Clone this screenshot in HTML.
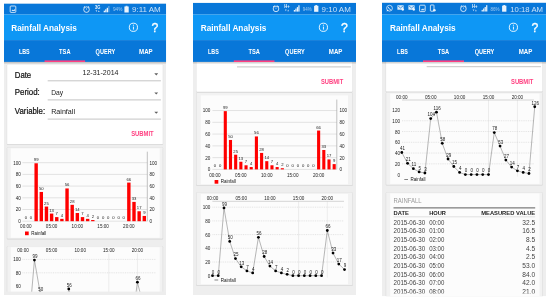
<!DOCTYPE html>
<html lang="en"><head><meta charset="utf-8"><title>Rainfall Analysis</title>
<style>html,body{margin:0;padding:0;background:#fff;overflow:hidden}svg{display:block}</style>
</head><body>
<svg width="550" height="301" viewBox="0 0 550 301" font-family="'Liberation Sans', sans-serif">
<defs><linearGradient id="sh" x1="0" y1="0" x2="0" y2="1"><stop offset="0" stop-color="#000" stop-opacity="0.22"/><stop offset="1" stop-color="#000" stop-opacity="0"/></linearGradient>
<clipPath id="c1"><rect x="4" y="3.4" width="162.2" height="291.6"/></clipPath>
<clipPath id="c2"><rect x="193" y="2.7" width="163" height="292.3"/></clipPath>
<clipPath id="c3"><rect x="382" y="2.6" width="164" height="293.7"/></clipPath>
<clipPath id="c3t"><rect x="382" y="190" width="164" height="103.6"/></clipPath>
</defs>
<rect x="0.00" y="0.00" width="550.00" height="301.00" fill="#fff" />
<g clip-path="url(#c1)">
<rect x="4.00" y="3.40" width="162.20" height="291.60" fill="#eeeeee" />
<rect x="4.00" y="3.40" width="162.20" height="11.10" fill="#0877d9" />
<rect x="4.00" y="14.50" width="162.20" height="25.70" fill="#0e97f5" />
<rect x="4.00" y="40.10" width="162.20" height="21.80" fill="#0877d9" />
<rect x="4.00" y="61.90" width="162.20" height="2.60" fill="url(#sh)" />
<rect x="44.55" y="60.40" width="40.55" height="1.60" fill="#ff4081" />
<text x="11.30" y="30.50" font-size="8.8" fill="#fff" text-anchor="start" font-weight="bold" textLength="65.60" lengthAdjust="spacingAndGlyphs" >Rainfall Analysis</text>
<text x="18.88" y="53.80" font-size="6.3" fill="#fff" text-anchor="start" font-weight="bold" textLength="10.80" lengthAdjust="spacingAndGlyphs" >LBS</text>
<text x="59.12" y="53.80" font-size="6.3" fill="#fff" text-anchor="start" font-weight="bold" textLength="11.40" lengthAdjust="spacingAndGlyphs" >TSA</text>
<text x="95.58" y="53.80" font-size="6.3" fill="#fff" text-anchor="start" font-weight="bold" textLength="19.60" lengthAdjust="spacingAndGlyphs" >QUERY</text>
<text x="139.12" y="53.80" font-size="6.3" fill="#fff" text-anchor="start" font-weight="bold" textLength="13.60" lengthAdjust="spacingAndGlyphs" >MAP</text>
<circle cx="133.40" cy="27.3" r="4.1" fill="none" stroke="#fff" stroke-width="0.9"/>
<rect x="132.95" y="26.60" width="0.90" height="3.00" fill="#fff" />
<rect x="132.95" y="24.70" width="0.90" height="1.00" fill="#fff" />
<text x="154.80" y="31.90" font-size="12.2" fill="#fff" text-anchor="middle" font-weight="normal" stroke="#fff" stroke-width="0.3">?</text>
<circle cx="86.50" cy="9.60" r="2.8" fill="none" stroke="#fff" stroke-width="0.9" opacity="0.85"/>
<line x1="83.60" y1="7.60" x2="85.00" y2="6.30" stroke="#fff" stroke-width="0.9" opacity="0.85"/>
<line x1="89.40" y1="7.60" x2="88.00" y2="6.30" stroke="#fff" stroke-width="0.9" opacity="0.85"/>
<line x1="86.50" y1="8.20" x2="86.50" y2="9.80" stroke="#fff" stroke-width="0.6" opacity="0.85"/>
<text x="94.90" y="9.10" font-size="4.9" fill="#fff" text-anchor="start" font-weight="bold" textLength="5.40" lengthAdjust="spacingAndGlyphs" opacity="0.9">3G</text>
<path d="M95.50 10.20 h1.8 l-0.9 1.8 Z M97.90 12.00 h1.8 l-0.9 -1.8 Z" fill="#fff" opacity="0.7"/>
<rect x="103.70" y="10.70" width="1.25" height="1.60" fill="#fff" opacity="0.95"/>
<rect x="105.20" y="9.30" width="1.25" height="3.00" fill="#fff" opacity="0.95"/>
<rect x="106.70" y="7.80" width="1.25" height="4.50" fill="#fff" opacity="0.95"/>
<rect x="108.20" y="6.00" width="1.25" height="6.30" fill="#fff" opacity="0.35"/>
<text x="113.00" y="11.40" font-size="4.6" fill="#fff" text-anchor="start" font-weight="normal" textLength="9.40" lengthAdjust="spacingAndGlyphs" opacity="0.6">94%</text>
<rect x="124.40" y="6.50" width="4.30" height="6.00" fill="#fff" opacity="0.92"/>
<rect x="125.60" y="5.80" width="1.90" height="0.90" fill="#fff" opacity="0.92"/>
<text x="132.00" y="12.40" font-size="8.0" fill="#fff" text-anchor="start" font-weight="normal" textLength="28.80" lengthAdjust="spacingAndGlyphs" opacity="0.78">9:11 AM</text>
<rect x="10.20" y="6.00" width="5.6" height="6.4" rx="0.8" fill="none" stroke="#fff" stroke-width="0.9" opacity="0.85"/>
<path d="M11.40 11.00 l1.4 -1.6 l0.9 0.9 l1.2 -1.5 l0 2.2 Z" fill="#fff" opacity="0.85"/>
<rect x="6.70" y="64.30" width="156.50" height="80.80" fill="#000" opacity="0.07" rx="1.2"/>
<rect x="7.30" y="64.60" width="155.30" height="79.40" fill="#f2f2f2" rx="0.8"/>
<rect x="7.30" y="64.60" width="155.30" height="79.40" fill="#fff" />
<text x="14.80" y="77.80" font-size="8.5" fill="#111" text-anchor="start" font-weight="normal" textLength="16.40" lengthAdjust="spacingAndGlyphs" stroke="#111" stroke-width="0.22">Date</text>
<text x="14.80" y="94.50" font-size="8.5" fill="#111" text-anchor="start" font-weight="normal" textLength="25.00" lengthAdjust="spacingAndGlyphs" stroke="#111" stroke-width="0.22">Period:</text>
<text x="14.80" y="113.60" font-size="8.5" fill="#111" text-anchor="start" font-weight="normal" textLength="30.30" lengthAdjust="spacingAndGlyphs" stroke="#111" stroke-width="0.22">Variable:</text>
<text x="82.50" y="75.30" font-size="7.0" fill="#222" text-anchor="start" font-weight="normal" textLength="36.00" lengthAdjust="spacingAndGlyphs" >12-31-2014</text>
<text x="51.20" y="94.50" font-size="6.7" fill="#222" text-anchor="start" font-weight="normal" textLength="11.90" lengthAdjust="spacingAndGlyphs" >Day</text>
<text x="51.20" y="113.60" font-size="6.8" fill="#222" text-anchor="start" font-weight="normal" textLength="23.80" lengthAdjust="spacingAndGlyphs" >Rainfall</text>
<line x1="47.70" y1="80.80" x2="160.90" y2="80.80" stroke="#b5b5b5" stroke-width="0.8" />
<path d="M154.3 73.3 h3.9 l-1.95 2.1 Z" fill="#616161"/>
<line x1="47.70" y1="99.90" x2="160.90" y2="99.90" stroke="#b5b5b5" stroke-width="0.8" />
<path d="M154.3 92.4 h3.9 l-1.95 2.1 Z" fill="#616161"/>
<line x1="47.70" y1="119.10" x2="160.90" y2="119.10" stroke="#b5b5b5" stroke-width="0.8" />
<path d="M154.3 111.7 h3.9 l-1.95 2.1 Z" fill="#616161"/>
<text x="131.20" y="135.60" font-size="6.7" fill="#ff4081" text-anchor="start" font-weight="bold" textLength="22.40" lengthAdjust="spacingAndGlyphs" >SUBMIT</text>
<rect x="6.70" y="147.20" width="156.50" height="92.50" fill="#000" opacity="0.07" rx="1.2"/>
<rect x="7.30" y="147.50" width="155.30" height="91.10" fill="#f2f2f2" rx="0.8"/>
<rect x="10.80" y="148.40" width="148.90" height="89.40" fill="#fcfcfc" />
<line x1="22.40" y1="221.20" x2="147.30" y2="221.20" stroke="#c8c8c8" stroke-width="0.5" />
<text x="20.80" y="223.10" font-size="4.6" fill="#222" text-anchor="end" font-weight="normal" >0</text>
<text x="149.40" y="223.10" font-size="4.6" fill="#222" text-anchor="start" font-weight="normal" >0</text>
<line x1="22.40" y1="209.50" x2="147.30" y2="209.50" stroke="#c8c8c8" stroke-width="0.5" />
<text x="20.80" y="211.40" font-size="4.6" fill="#222" text-anchor="end" font-weight="normal" >20</text>
<text x="149.40" y="211.40" font-size="4.6" fill="#222" text-anchor="start" font-weight="normal" >20</text>
<line x1="22.40" y1="197.80" x2="147.30" y2="197.80" stroke="#c8c8c8" stroke-width="0.5" />
<text x="20.80" y="199.70" font-size="4.6" fill="#222" text-anchor="end" font-weight="normal" >40</text>
<text x="149.40" y="199.70" font-size="4.6" fill="#222" text-anchor="start" font-weight="normal" >40</text>
<line x1="22.40" y1="186.10" x2="147.30" y2="186.10" stroke="#c8c8c8" stroke-width="0.5" />
<text x="20.80" y="188.00" font-size="4.6" fill="#222" text-anchor="end" font-weight="normal" >60</text>
<text x="149.40" y="188.00" font-size="4.6" fill="#222" text-anchor="start" font-weight="normal" >60</text>
<line x1="22.40" y1="174.40" x2="147.30" y2="174.40" stroke="#c8c8c8" stroke-width="0.5" />
<text x="20.80" y="176.30" font-size="4.6" fill="#222" text-anchor="end" font-weight="normal" >80</text>
<text x="149.40" y="176.30" font-size="4.6" fill="#222" text-anchor="start" font-weight="normal" >80</text>
<line x1="22.40" y1="162.70" x2="147.30" y2="162.70" stroke="#c8c8c8" stroke-width="0.5" />
<text x="20.80" y="164.60" font-size="4.6" fill="#222" text-anchor="end" font-weight="normal" >100</text>
<text x="149.40" y="164.60" font-size="4.6" fill="#222" text-anchor="start" font-weight="normal" >100</text>
<line x1="147.30" y1="151.70" x2="147.30" y2="221.20" stroke="#999" stroke-width="0.6" />
<text x="25.85" y="219.20" font-size="4.2" fill="#222" text-anchor="middle" font-weight="normal" >0</text>
<text x="31.00" y="219.20" font-size="4.2" fill="#222" text-anchor="middle" font-weight="normal" >0</text>
<rect x="34.45" y="163.28" width="3.40" height="57.91" fill="#ff0000" />
<text x="36.15" y="161.28" font-size="4.2" fill="#222" text-anchor="middle" font-weight="normal" >99</text>
<rect x="39.60" y="191.95" width="3.40" height="29.25" fill="#ff0000" />
<text x="41.30" y="189.95" font-size="4.2" fill="#222" text-anchor="middle" font-weight="normal" >50</text>
<rect x="44.75" y="206.57" width="3.40" height="14.62" fill="#ff0000" />
<text x="46.45" y="204.57" font-size="4.2" fill="#222" text-anchor="middle" font-weight="normal" >25</text>
<rect x="49.90" y="213.59" width="3.40" height="7.60" fill="#ff0000" />
<text x="51.60" y="211.59" font-size="4.2" fill="#222" text-anchor="middle" font-weight="normal" >13</text>
<rect x="55.05" y="217.10" width="3.40" height="4.09" fill="#ff0000" />
<text x="56.75" y="215.10" font-size="4.2" fill="#222" text-anchor="middle" font-weight="normal" >7</text>
<rect x="60.20" y="218.86" width="3.40" height="2.34" fill="#ff0000" />
<text x="61.90" y="216.86" font-size="4.2" fill="#222" text-anchor="middle" font-weight="normal" >4</text>
<rect x="65.35" y="188.44" width="3.40" height="32.76" fill="#ff0000" />
<text x="67.05" y="186.44" font-size="4.2" fill="#222" text-anchor="middle" font-weight="normal" >56</text>
<rect x="70.50" y="204.82" width="3.40" height="16.38" fill="#ff0000" />
<text x="72.20" y="202.82" font-size="4.2" fill="#222" text-anchor="middle" font-weight="normal" >28</text>
<rect x="75.65" y="213.01" width="3.40" height="8.19" fill="#ff0000" />
<text x="77.35" y="211.01" font-size="4.2" fill="#222" text-anchor="middle" font-weight="normal" >14</text>
<rect x="80.80" y="217.10" width="3.40" height="4.09" fill="#ff0000" />
<text x="82.50" y="215.10" font-size="4.2" fill="#222" text-anchor="middle" font-weight="normal" >7</text>
<rect x="85.95" y="218.86" width="3.40" height="2.34" fill="#ff0000" />
<text x="87.65" y="216.86" font-size="4.2" fill="#222" text-anchor="middle" font-weight="normal" >4</text>
<rect x="91.10" y="220.03" width="3.40" height="1.17" fill="#ff0000" />
<text x="92.80" y="218.03" font-size="4.2" fill="#222" text-anchor="middle" font-weight="normal" >2</text>
<text x="97.95" y="219.20" font-size="4.2" fill="#222" text-anchor="middle" font-weight="normal" >0</text>
<text x="103.10" y="219.20" font-size="4.2" fill="#222" text-anchor="middle" font-weight="normal" >0</text>
<text x="108.25" y="219.20" font-size="4.2" fill="#222" text-anchor="middle" font-weight="normal" >0</text>
<text x="113.40" y="219.20" font-size="4.2" fill="#222" text-anchor="middle" font-weight="normal" >0</text>
<text x="118.55" y="219.20" font-size="4.2" fill="#222" text-anchor="middle" font-weight="normal" >0</text>
<text x="123.70" y="219.20" font-size="4.2" fill="#222" text-anchor="middle" font-weight="normal" >0</text>
<rect x="127.15" y="182.59" width="3.40" height="38.61" fill="#ff0000" />
<text x="128.85" y="180.59" font-size="4.2" fill="#222" text-anchor="middle" font-weight="normal" >66</text>
<rect x="132.30" y="201.89" width="3.40" height="19.30" fill="#ff0000" />
<text x="134.00" y="199.89" font-size="4.2" fill="#222" text-anchor="middle" font-weight="normal" >33</text>
<rect x="137.45" y="211.25" width="3.40" height="9.95" fill="#ff0000" />
<text x="139.15" y="209.25" font-size="4.2" fill="#222" text-anchor="middle" font-weight="normal" >17</text>
<rect x="142.60" y="215.94" width="3.40" height="5.26" fill="#ff0000" />
<text x="144.30" y="213.94" font-size="4.2" fill="#222" text-anchor="middle" font-weight="normal" >9</text>
<text x="25.85" y="228.20" font-size="4.6" fill="#222" text-anchor="middle" font-weight="normal" >00:00</text>
<text x="51.60" y="228.20" font-size="4.6" fill="#222" text-anchor="middle" font-weight="normal" >05:00</text>
<text x="77.35" y="228.20" font-size="4.6" fill="#222" text-anchor="middle" font-weight="normal" >10:00</text>
<text x="103.10" y="228.20" font-size="4.6" fill="#222" text-anchor="middle" font-weight="normal" >15:00</text>
<text x="128.85" y="228.20" font-size="4.6" fill="#222" text-anchor="middle" font-weight="normal" >20:00</text>
<rect x="25.00" y="231.50" width="3.70" height="3.70" fill="#ff0000" />
<text x="31.20" y="234.90" font-size="4.6" fill="#111" text-anchor="start" font-weight="normal" textLength="15.00" lengthAdjust="spacingAndGlyphs" >Rainfall</text>
<rect x="6.70" y="246.00" width="156.50" height="55.10" fill="#000" opacity="0.07" rx="1.2"/>
<rect x="7.30" y="246.30" width="155.30" height="53.70" fill="#f2f2f2" rx="0.8"/>
<rect x="10.80" y="247.20" width="148.90" height="60.00" fill="#fcfcfc" />
<g>
<text x="23.00" y="252.30" font-size="4.6" fill="#222" text-anchor="middle" font-weight="normal" >00:00</text>
<text x="51.60" y="252.30" font-size="4.6" fill="#222" text-anchor="middle" font-weight="normal" >05:00</text>
<text x="80.20" y="252.30" font-size="4.6" fill="#222" text-anchor="middle" font-weight="normal" >10:00</text>
<text x="108.80" y="252.30" font-size="4.6" fill="#222" text-anchor="middle" font-weight="normal" >15:00</text>
<line x1="108.80" y1="253.60" x2="108.80" y2="300.00" stroke="#dcdcdc" stroke-width="0.5" />
<text x="137.40" y="252.30" font-size="4.6" fill="#222" text-anchor="middle" font-weight="normal" >20:00</text>
<line x1="137.40" y1="253.60" x2="137.40" y2="300.00" stroke="#dcdcdc" stroke-width="0.5" />
<text x="20.80" y="328.40" font-size="4.6" fill="#222" text-anchor="end" font-weight="normal" >0</text>
<text x="20.80" y="315.00" font-size="4.6" fill="#222" text-anchor="end" font-weight="normal" >20</text>
<text x="20.80" y="301.60" font-size="4.6" fill="#222" text-anchor="end" font-weight="normal" >40</text>
<text x="20.80" y="288.20" font-size="4.6" fill="#222" text-anchor="end" font-weight="normal" >60</text>
<line x1="22.40" y1="272.80" x2="156.00" y2="272.80" stroke="#cdcdcd" stroke-width="0.5" stroke-dasharray="1 0.8"/>
<text x="20.80" y="274.80" font-size="4.6" fill="#222" text-anchor="end" font-weight="normal" >80</text>
<line x1="22.40" y1="259.40" x2="156.00" y2="259.40" stroke="#cdcdcd" stroke-width="0.5" stroke-dasharray="1 0.8"/>
<text x="20.80" y="261.40" font-size="4.6" fill="#222" text-anchor="end" font-weight="normal" >100</text>
<polyline fill="none" stroke="#555" stroke-width="0.42" points="23.00,326.40 28.72,326.40 34.44,260.07 40.16,292.90 45.88,309.65 51.60,317.69 57.32,321.71 63.04,323.72 68.76,288.88 74.48,307.64 80.20,317.02 85.92,321.71 91.64,323.72 97.36,325.06 103.08,326.40 108.80,326.40 114.52,326.40 120.24,326.40 125.96,326.40 131.68,326.40 137.40,282.18 143.12,304.29 148.84,315.01 154.56,320.37"/>
<circle cx="23.00" cy="326.40" r="1.4" fill="#000"/>
<text x="23.60" y="324.20" font-size="4.5" fill="#222" text-anchor="middle" font-weight="normal" >0</text>
<circle cx="28.72" cy="326.40" r="1.4" fill="#000"/>
<text x="29.32" y="324.20" font-size="4.5" fill="#222" text-anchor="middle" font-weight="normal" >0</text>
<circle cx="34.44" cy="260.07" r="1.4" fill="#000"/>
<text x="35.04" y="257.87" font-size="4.5" fill="#222" text-anchor="middle" font-weight="normal" >99</text>
<circle cx="40.16" cy="292.90" r="1.4" fill="#000"/>
<text x="40.76" y="290.70" font-size="4.5" fill="#222" text-anchor="middle" font-weight="normal" >50</text>
<circle cx="45.88" cy="309.65" r="1.4" fill="#000"/>
<text x="46.48" y="307.45" font-size="4.5" fill="#222" text-anchor="middle" font-weight="normal" >25</text>
<circle cx="51.60" cy="317.69" r="1.4" fill="#000"/>
<text x="52.20" y="315.49" font-size="4.5" fill="#222" text-anchor="middle" font-weight="normal" >13</text>
<circle cx="57.32" cy="321.71" r="1.4" fill="#000"/>
<text x="57.92" y="319.51" font-size="4.5" fill="#222" text-anchor="middle" font-weight="normal" >7</text>
<circle cx="63.04" cy="323.72" r="1.4" fill="#000"/>
<text x="63.64" y="321.52" font-size="4.5" fill="#222" text-anchor="middle" font-weight="normal" >4</text>
<circle cx="68.76" cy="288.88" r="1.4" fill="#000"/>
<text x="69.36" y="286.68" font-size="4.5" fill="#222" text-anchor="middle" font-weight="normal" >56</text>
<circle cx="74.48" cy="307.64" r="1.4" fill="#000"/>
<text x="75.08" y="305.44" font-size="4.5" fill="#222" text-anchor="middle" font-weight="normal" >28</text>
<circle cx="80.20" cy="317.02" r="1.4" fill="#000"/>
<text x="80.80" y="314.82" font-size="4.5" fill="#222" text-anchor="middle" font-weight="normal" >14</text>
<circle cx="85.92" cy="321.71" r="1.4" fill="#000"/>
<text x="86.52" y="319.51" font-size="4.5" fill="#222" text-anchor="middle" font-weight="normal" >7</text>
<circle cx="91.64" cy="323.72" r="1.4" fill="#000"/>
<text x="92.24" y="321.52" font-size="4.5" fill="#222" text-anchor="middle" font-weight="normal" >4</text>
<circle cx="97.36" cy="325.06" r="1.4" fill="#000"/>
<text x="97.96" y="322.86" font-size="4.5" fill="#222" text-anchor="middle" font-weight="normal" >2</text>
<circle cx="103.08" cy="326.40" r="1.4" fill="#000"/>
<text x="103.68" y="324.20" font-size="4.5" fill="#222" text-anchor="middle" font-weight="normal" >0</text>
<circle cx="108.80" cy="326.40" r="1.4" fill="#000"/>
<text x="109.40" y="324.20" font-size="4.5" fill="#222" text-anchor="middle" font-weight="normal" >0</text>
<circle cx="114.52" cy="326.40" r="1.4" fill="#000"/>
<text x="115.12" y="324.20" font-size="4.5" fill="#222" text-anchor="middle" font-weight="normal" >0</text>
<circle cx="120.24" cy="326.40" r="1.4" fill="#000"/>
<text x="120.84" y="324.20" font-size="4.5" fill="#222" text-anchor="middle" font-weight="normal" >0</text>
<circle cx="125.96" cy="326.40" r="1.4" fill="#000"/>
<text x="126.56" y="324.20" font-size="4.5" fill="#222" text-anchor="middle" font-weight="normal" >0</text>
<circle cx="131.68" cy="326.40" r="1.4" fill="#000"/>
<text x="132.28" y="324.20" font-size="4.5" fill="#222" text-anchor="middle" font-weight="normal" >0</text>
<circle cx="137.40" cy="282.18" r="1.4" fill="#000"/>
<text x="138.00" y="279.98" font-size="4.5" fill="#222" text-anchor="middle" font-weight="normal" >66</text>
<circle cx="143.12" cy="304.29" r="1.4" fill="#000"/>
<text x="143.72" y="302.09" font-size="4.5" fill="#222" text-anchor="middle" font-weight="normal" >33</text>
<circle cx="148.84" cy="315.01" r="1.4" fill="#000"/>
<text x="149.44" y="312.81" font-size="4.5" fill="#222" text-anchor="middle" font-weight="normal" >17</text>
<circle cx="154.56" cy="320.37" r="1.4" fill="#000"/>
<text x="155.16" y="318.17" font-size="4.5" fill="#222" text-anchor="middle" font-weight="normal" >9</text>
</g>
<rect x="4.00" y="291.60" width="162.20" height="4.00" fill="#ededed" />
</g>
<g clip-path="url(#c2)">
<rect x="193.00" y="2.70" width="163.00" height="292.30" fill="#eeeeee" />
<rect x="196.00" y="59.70" width="156.90" height="33.00" fill="#000" opacity="0.07" rx="1.2"/>
<rect x="196.60" y="60.00" width="155.70" height="31.60" fill="#f2f2f2" rx="0.8"/>
<rect x="196.60" y="60.00" width="155.70" height="31.60" fill="#fff" />
<line x1="237.00" y1="66.90" x2="350.90" y2="66.90" stroke="#b5b5b5" stroke-width="0.8" />
<text x="321.00" y="83.50" font-size="6.7" fill="#ff4081" text-anchor="start" font-weight="bold" textLength="22.20" lengthAdjust="spacingAndGlyphs" >SUBMIT</text>
<rect x="196.00" y="92.70" width="156.90" height="93.40" fill="#000" opacity="0.07" rx="1.2"/>
<rect x="196.60" y="93.00" width="155.70" height="92.00" fill="#f2f2f2" rx="0.8"/>
<rect x="200.80" y="95.40" width="147.20" height="88.80" fill="#fcfcfc" />
<line x1="212.40" y1="169.40" x2="336.80" y2="169.40" stroke="#c8c8c8" stroke-width="0.5" />
<text x="210.40" y="171.30" font-size="4.6" fill="#222" text-anchor="end" font-weight="normal" >0</text>
<text x="339.40" y="171.30" font-size="4.6" fill="#222" text-anchor="start" font-weight="normal" >0</text>
<line x1="212.40" y1="157.63" x2="336.80" y2="157.63" stroke="#c8c8c8" stroke-width="0.5" />
<text x="210.40" y="159.53" font-size="4.6" fill="#222" text-anchor="end" font-weight="normal" >20</text>
<text x="339.40" y="159.53" font-size="4.6" fill="#222" text-anchor="start" font-weight="normal" >20</text>
<line x1="212.40" y1="145.86" x2="336.80" y2="145.86" stroke="#c8c8c8" stroke-width="0.5" />
<text x="210.40" y="147.76" font-size="4.6" fill="#222" text-anchor="end" font-weight="normal" >40</text>
<text x="339.40" y="147.76" font-size="4.6" fill="#222" text-anchor="start" font-weight="normal" >40</text>
<line x1="212.40" y1="134.09" x2="336.80" y2="134.09" stroke="#c8c8c8" stroke-width="0.5" />
<text x="210.40" y="135.99" font-size="4.6" fill="#222" text-anchor="end" font-weight="normal" >60</text>
<text x="339.40" y="135.99" font-size="4.6" fill="#222" text-anchor="start" font-weight="normal" >60</text>
<line x1="212.40" y1="122.32" x2="336.80" y2="122.32" stroke="#c8c8c8" stroke-width="0.5" />
<text x="210.40" y="124.22" font-size="4.6" fill="#222" text-anchor="end" font-weight="normal" >80</text>
<text x="339.40" y="124.22" font-size="4.6" fill="#222" text-anchor="start" font-weight="normal" >80</text>
<line x1="212.40" y1="110.55" x2="336.80" y2="110.55" stroke="#c8c8c8" stroke-width="0.5" />
<text x="210.40" y="112.45" font-size="4.6" fill="#222" text-anchor="end" font-weight="normal" >100</text>
<text x="339.40" y="112.45" font-size="4.6" fill="#222" text-anchor="start" font-weight="normal" >100</text>
<line x1="336.80" y1="99.55" x2="336.80" y2="169.40" stroke="#999" stroke-width="0.6" />
<text x="214.93" y="167.40" font-size="4.2" fill="#222" text-anchor="middle" font-weight="normal" >0</text>
<text x="220.12" y="167.40" font-size="4.2" fill="#222" text-anchor="middle" font-weight="normal" >0</text>
<rect x="223.75" y="111.14" width="3.10" height="58.26" fill="#ff0000" />
<text x="225.30" y="109.14" font-size="4.2" fill="#222" text-anchor="middle" font-weight="normal" >99</text>
<rect x="228.94" y="139.97" width="3.10" height="29.43" fill="#ff0000" />
<text x="230.49" y="137.97" font-size="4.2" fill="#222" text-anchor="middle" font-weight="normal" >50</text>
<rect x="234.12" y="154.69" width="3.10" height="14.71" fill="#ff0000" />
<text x="235.67" y="152.69" font-size="4.2" fill="#222" text-anchor="middle" font-weight="normal" >25</text>
<rect x="239.31" y="161.75" width="3.10" height="7.65" fill="#ff0000" />
<text x="240.86" y="159.75" font-size="4.2" fill="#222" text-anchor="middle" font-weight="normal" >13</text>
<rect x="244.49" y="165.28" width="3.10" height="4.12" fill="#ff0000" />
<text x="246.04" y="163.28" font-size="4.2" fill="#222" text-anchor="middle" font-weight="normal" >7</text>
<rect x="249.67" y="167.05" width="3.10" height="2.35" fill="#ff0000" />
<text x="251.22" y="165.05" font-size="4.2" fill="#222" text-anchor="middle" font-weight="normal" >4</text>
<rect x="254.86" y="136.44" width="3.10" height="32.96" fill="#ff0000" />
<text x="256.41" y="134.44" font-size="4.2" fill="#222" text-anchor="middle" font-weight="normal" >56</text>
<rect x="260.05" y="152.92" width="3.10" height="16.48" fill="#ff0000" />
<text x="261.60" y="150.92" font-size="4.2" fill="#222" text-anchor="middle" font-weight="normal" >28</text>
<rect x="265.23" y="161.16" width="3.10" height="8.24" fill="#ff0000" />
<text x="266.78" y="159.16" font-size="4.2" fill="#222" text-anchor="middle" font-weight="normal" >14</text>
<rect x="270.42" y="165.28" width="3.10" height="4.12" fill="#ff0000" />
<text x="271.97" y="163.28" font-size="4.2" fill="#222" text-anchor="middle" font-weight="normal" >7</text>
<rect x="275.60" y="167.05" width="3.10" height="2.35" fill="#ff0000" />
<text x="277.15" y="165.05" font-size="4.2" fill="#222" text-anchor="middle" font-weight="normal" >4</text>
<rect x="280.79" y="168.22" width="3.10" height="1.18" fill="#ff0000" />
<text x="282.34" y="166.22" font-size="4.2" fill="#222" text-anchor="middle" font-weight="normal" >2</text>
<text x="287.52" y="167.40" font-size="4.2" fill="#222" text-anchor="middle" font-weight="normal" >0</text>
<text x="292.70" y="167.40" font-size="4.2" fill="#222" text-anchor="middle" font-weight="normal" >0</text>
<text x="297.89" y="167.40" font-size="4.2" fill="#222" text-anchor="middle" font-weight="normal" >0</text>
<text x="303.07" y="167.40" font-size="4.2" fill="#222" text-anchor="middle" font-weight="normal" >0</text>
<text x="308.26" y="167.40" font-size="4.2" fill="#222" text-anchor="middle" font-weight="normal" >0</text>
<text x="313.44" y="167.40" font-size="4.2" fill="#222" text-anchor="middle" font-weight="normal" >0</text>
<rect x="317.08" y="130.56" width="3.10" height="38.84" fill="#ff0000" />
<text x="318.63" y="128.56" font-size="4.2" fill="#222" text-anchor="middle" font-weight="normal" >66</text>
<rect x="322.26" y="149.98" width="3.10" height="19.42" fill="#ff0000" />
<text x="323.81" y="147.98" font-size="4.2" fill="#222" text-anchor="middle" font-weight="normal" >33</text>
<rect x="327.45" y="159.40" width="3.10" height="10.00" fill="#ff0000" />
<text x="329.00" y="157.40" font-size="4.2" fill="#222" text-anchor="middle" font-weight="normal" >17</text>
<rect x="332.63" y="164.10" width="3.10" height="5.30" fill="#ff0000" />
<text x="334.19" y="162.10" font-size="4.2" fill="#222" text-anchor="middle" font-weight="normal" >9</text>
<text x="214.93" y="176.50" font-size="4.6" fill="#222" text-anchor="middle" font-weight="normal" >00:00</text>
<text x="240.86" y="176.50" font-size="4.6" fill="#222" text-anchor="middle" font-weight="normal" >05:00</text>
<text x="266.78" y="176.50" font-size="4.6" fill="#222" text-anchor="middle" font-weight="normal" >10:00</text>
<text x="292.70" y="176.50" font-size="4.6" fill="#222" text-anchor="middle" font-weight="normal" >15:00</text>
<text x="318.63" y="176.50" font-size="4.6" fill="#222" text-anchor="middle" font-weight="normal" >20:00</text>
<rect x="214.60" y="180.00" width="3.70" height="3.70" fill="#ff0000" />
<text x="220.80" y="183.40" font-size="4.6" fill="#111" text-anchor="start" font-weight="normal" textLength="15.00" lengthAdjust="spacingAndGlyphs" >Rainfall</text>
<rect x="196.00" y="192.30" width="156.90" height="93.80" fill="#000" opacity="0.07" rx="1.2"/>
<rect x="196.60" y="192.60" width="155.70" height="92.40" fill="#f2f2f2" rx="0.8"/>
<rect x="200.80" y="194.00" width="147.20" height="90.20" fill="#fcfcfc" />
<g>
<text x="212.50" y="200.10" font-size="4.6" fill="#222" text-anchor="middle" font-weight="normal" >00:00</text>
<text x="241.20" y="200.10" font-size="4.6" fill="#222" text-anchor="middle" font-weight="normal" >05:00</text>
<text x="269.90" y="200.10" font-size="4.6" fill="#222" text-anchor="middle" font-weight="normal" >10:00</text>
<text x="298.60" y="200.10" font-size="4.6" fill="#222" text-anchor="middle" font-weight="normal" >15:00</text>
<line x1="298.60" y1="201.30" x2="298.60" y2="277.50" stroke="#dcdcdc" stroke-width="0.5" />
<text x="327.30" y="200.10" font-size="4.6" fill="#222" text-anchor="middle" font-weight="normal" >20:00</text>
<line x1="327.30" y1="201.30" x2="327.30" y2="277.50" stroke="#dcdcdc" stroke-width="0.5" />
<line x1="212.40" y1="201.30" x2="344.00" y2="201.30" stroke="#bbb" stroke-width="0.6" />
<text x="210.40" y="277.70" font-size="4.6" fill="#222" text-anchor="end" font-weight="normal" >0</text>
<line x1="212.40" y1="262.00" x2="344.00" y2="262.00" stroke="#cdcdcd" stroke-width="0.5" stroke-dasharray="1 0.8"/>
<text x="210.40" y="264.00" font-size="4.6" fill="#222" text-anchor="end" font-weight="normal" >20</text>
<line x1="212.40" y1="248.30" x2="344.00" y2="248.30" stroke="#cdcdcd" stroke-width="0.5" stroke-dasharray="1 0.8"/>
<text x="210.40" y="250.30" font-size="4.6" fill="#222" text-anchor="end" font-weight="normal" >40</text>
<line x1="212.40" y1="234.60" x2="344.00" y2="234.60" stroke="#cdcdcd" stroke-width="0.5" stroke-dasharray="1 0.8"/>
<text x="210.40" y="236.60" font-size="4.6" fill="#222" text-anchor="end" font-weight="normal" >60</text>
<line x1="212.40" y1="220.90" x2="344.00" y2="220.90" stroke="#cdcdcd" stroke-width="0.5" stroke-dasharray="1 0.8"/>
<text x="210.40" y="222.90" font-size="4.6" fill="#222" text-anchor="end" font-weight="normal" >80</text>
<line x1="212.40" y1="207.20" x2="344.00" y2="207.20" stroke="#cdcdcd" stroke-width="0.5" stroke-dasharray="1 0.8"/>
<text x="210.40" y="209.20" font-size="4.6" fill="#222" text-anchor="end" font-weight="normal" >100</text>
<polyline fill="none" stroke="#555" stroke-width="0.42" points="212.50,275.70 218.24,275.70 223.98,207.88 229.72,241.45 235.46,258.57 241.20,266.79 246.94,270.90 252.68,272.96 258.42,237.34 264.16,256.52 269.90,266.11 275.64,270.90 281.38,272.96 287.12,274.33 292.86,275.70 298.60,275.70 304.34,275.70 310.08,275.70 315.82,275.70 321.56,275.70 327.30,230.49 333.04,253.09 338.78,264.06 344.52,269.53"/>
<circle cx="212.50" cy="275.70" r="1.4" fill="#000"/>
<text x="213.10" y="273.50" font-size="4.5" fill="#222" text-anchor="middle" font-weight="normal" >0</text>
<circle cx="218.24" cy="275.70" r="1.4" fill="#000"/>
<text x="218.84" y="273.50" font-size="4.5" fill="#222" text-anchor="middle" font-weight="normal" >0</text>
<circle cx="223.98" cy="207.88" r="1.4" fill="#000"/>
<text x="224.58" y="205.69" font-size="4.5" fill="#222" text-anchor="middle" font-weight="normal" >99</text>
<circle cx="229.72" cy="241.45" r="1.4" fill="#000"/>
<text x="230.32" y="239.25" font-size="4.5" fill="#222" text-anchor="middle" font-weight="normal" >50</text>
<circle cx="235.46" cy="258.57" r="1.4" fill="#000"/>
<text x="236.06" y="256.38" font-size="4.5" fill="#222" text-anchor="middle" font-weight="normal" >25</text>
<circle cx="241.20" cy="266.79" r="1.4" fill="#000"/>
<text x="241.80" y="264.59" font-size="4.5" fill="#222" text-anchor="middle" font-weight="normal" >13</text>
<circle cx="246.94" cy="270.90" r="1.4" fill="#000"/>
<text x="247.54" y="268.70" font-size="4.5" fill="#222" text-anchor="middle" font-weight="normal" >7</text>
<circle cx="252.68" cy="272.96" r="1.4" fill="#000"/>
<text x="253.28" y="270.76" font-size="4.5" fill="#222" text-anchor="middle" font-weight="normal" >4</text>
<circle cx="258.42" cy="237.34" r="1.4" fill="#000"/>
<text x="259.02" y="235.14" font-size="4.5" fill="#222" text-anchor="middle" font-weight="normal" >56</text>
<circle cx="264.16" cy="256.52" r="1.4" fill="#000"/>
<text x="264.76" y="254.32" font-size="4.5" fill="#222" text-anchor="middle" font-weight="normal" >28</text>
<circle cx="269.90" cy="266.11" r="1.4" fill="#000"/>
<text x="270.50" y="263.91" font-size="4.5" fill="#222" text-anchor="middle" font-weight="normal" >14</text>
<circle cx="275.64" cy="270.90" r="1.4" fill="#000"/>
<text x="276.24" y="268.70" font-size="4.5" fill="#222" text-anchor="middle" font-weight="normal" >7</text>
<circle cx="281.38" cy="272.96" r="1.4" fill="#000"/>
<text x="281.98" y="270.76" font-size="4.5" fill="#222" text-anchor="middle" font-weight="normal" >4</text>
<circle cx="287.12" cy="274.33" r="1.4" fill="#000"/>
<text x="287.72" y="272.13" font-size="4.5" fill="#222" text-anchor="middle" font-weight="normal" >2</text>
<circle cx="292.86" cy="275.70" r="1.4" fill="#000"/>
<text x="293.46" y="273.50" font-size="4.5" fill="#222" text-anchor="middle" font-weight="normal" >0</text>
<circle cx="298.60" cy="275.70" r="1.4" fill="#000"/>
<text x="299.20" y="273.50" font-size="4.5" fill="#222" text-anchor="middle" font-weight="normal" >0</text>
<circle cx="304.34" cy="275.70" r="1.4" fill="#000"/>
<text x="304.94" y="273.50" font-size="4.5" fill="#222" text-anchor="middle" font-weight="normal" >0</text>
<circle cx="310.08" cy="275.70" r="1.4" fill="#000"/>
<text x="310.68" y="273.50" font-size="4.5" fill="#222" text-anchor="middle" font-weight="normal" >0</text>
<circle cx="315.82" cy="275.70" r="1.4" fill="#000"/>
<text x="316.42" y="273.50" font-size="4.5" fill="#222" text-anchor="middle" font-weight="normal" >0</text>
<circle cx="321.56" cy="275.70" r="1.4" fill="#000"/>
<text x="322.16" y="273.50" font-size="4.5" fill="#222" text-anchor="middle" font-weight="normal" >0</text>
<circle cx="327.30" cy="230.49" r="1.4" fill="#000"/>
<text x="327.90" y="228.29" font-size="4.5" fill="#222" text-anchor="middle" font-weight="normal" >66</text>
<circle cx="333.04" cy="253.09" r="1.4" fill="#000"/>
<text x="333.64" y="250.90" font-size="4.5" fill="#222" text-anchor="middle" font-weight="normal" >33</text>
<circle cx="338.78" cy="264.06" r="1.4" fill="#000"/>
<text x="339.38" y="261.86" font-size="4.5" fill="#222" text-anchor="middle" font-weight="normal" >17</text>
<circle cx="344.52" cy="269.53" r="1.4" fill="#000"/>
<text x="345.12" y="267.33" font-size="4.5" fill="#222" text-anchor="middle" font-weight="normal" >9</text>
<line x1="214.50" y1="280.00" x2="218.20" y2="280.00" stroke="#333" stroke-width="0.6" />
<text x="220.80" y="281.60" font-size="4.6" fill="#111" text-anchor="start" font-weight="normal" textLength="15.00" lengthAdjust="spacingAndGlyphs" >Rainfall</text>
</g>
<rect x="193.00" y="2.70" width="163.00" height="11.80" fill="#0877d9" />
<rect x="193.00" y="14.50" width="163.00" height="25.70" fill="#0e97f5" />
<rect x="193.00" y="40.10" width="163.00" height="21.80" fill="#0877d9" />
<rect x="193.00" y="61.90" width="163.00" height="2.60" fill="url(#sh)" />
<rect x="233.75" y="60.40" width="40.75" height="1.60" fill="#ff4081" />
<text x="200.70" y="30.50" font-size="8.8" fill="#fff" text-anchor="start" font-weight="bold" textLength="65.60" lengthAdjust="spacingAndGlyphs" >Rainfall Analysis</text>
<text x="207.97" y="53.80" font-size="6.3" fill="#fff" text-anchor="start" font-weight="bold" textLength="10.80" lengthAdjust="spacingAndGlyphs" >LBS</text>
<text x="248.43" y="53.80" font-size="6.3" fill="#fff" text-anchor="start" font-weight="bold" textLength="11.40" lengthAdjust="spacingAndGlyphs" >TSA</text>
<text x="285.07" y="53.80" font-size="6.3" fill="#fff" text-anchor="start" font-weight="bold" textLength="19.60" lengthAdjust="spacingAndGlyphs" >QUERY</text>
<text x="328.82" y="53.80" font-size="6.3" fill="#fff" text-anchor="start" font-weight="bold" textLength="13.60" lengthAdjust="spacingAndGlyphs" >MAP</text>
<circle cx="323.40" cy="27.3" r="4.1" fill="none" stroke="#fff" stroke-width="0.9"/>
<rect x="322.95" y="26.60" width="0.90" height="3.00" fill="#fff" />
<rect x="322.95" y="24.70" width="0.90" height="1.00" fill="#fff" />
<text x="344.40" y="31.90" font-size="12.2" fill="#fff" text-anchor="middle" font-weight="normal" stroke="#fff" stroke-width="0.3">?</text>
<circle cx="276.00" cy="8.90" r="2.8" fill="none" stroke="#fff" stroke-width="0.9" opacity="0.85"/>
<line x1="273.10" y1="6.90" x2="274.50" y2="5.60" stroke="#fff" stroke-width="0.9" opacity="0.85"/>
<line x1="278.90" y1="6.90" x2="277.50" y2="5.60" stroke="#fff" stroke-width="0.9" opacity="0.85"/>
<line x1="276.00" y1="7.50" x2="276.00" y2="9.10" stroke="#fff" stroke-width="0.6" opacity="0.85"/>
<text x="284.30" y="8.40" font-size="4.9" fill="#fff" text-anchor="start" font-weight="bold" textLength="5.40" lengthAdjust="spacingAndGlyphs" opacity="0.9">H+</text>
<path d="M284.90 9.50 h1.8 l-0.9 1.8 Z M287.30 11.30 h1.8 l-0.9 -1.8 Z" fill="#fff" opacity="0.7"/>
<rect x="293.80" y="10.00" width="1.25" height="1.60" fill="#fff" opacity="0.9"/>
<rect x="295.30" y="8.60" width="1.25" height="3.00" fill="#fff" opacity="0.9"/>
<rect x="296.80" y="7.10" width="1.25" height="4.50" fill="#fff" opacity="0.9"/>
<rect x="298.30" y="5.30" width="1.25" height="6.30" fill="#fff" opacity="0.9"/>
<text x="302.70" y="10.70" font-size="4.6" fill="#fff" text-anchor="start" font-weight="normal" textLength="8.90" lengthAdjust="spacingAndGlyphs" opacity="0.6">94%</text>
<rect x="314.10" y="5.80" width="4.30" height="6.00" fill="#fff" opacity="0.92"/>
<rect x="315.30" y="5.10" width="1.90" height="0.90" fill="#fff" opacity="0.92"/>
<text x="321.60" y="11.70" font-size="8.0" fill="#fff" text-anchor="start" font-weight="normal" textLength="29.20" lengthAdjust="spacingAndGlyphs" opacity="0.78">9:10 AM</text>
</g>
<g clip-path="url(#c3)">
<rect x="382.00" y="2.60" width="164.00" height="293.70" fill="#eeeeee" />
<rect x="385.60" y="59.70" width="157.30" height="32.70" fill="#000" opacity="0.07" rx="1.2"/>
<rect x="386.20" y="60.00" width="156.10" height="31.30" fill="#f2f2f2" rx="0.8"/>
<rect x="386.20" y="60.00" width="156.10" height="31.30" fill="#fff" />
<line x1="426.70" y1="66.70" x2="540.90" y2="66.70" stroke="#b5b5b5" stroke-width="0.8" />
<text x="511.00" y="83.50" font-size="6.7" fill="#ff4081" text-anchor="start" font-weight="bold" textLength="22.40" lengthAdjust="spacingAndGlyphs" >SUBMIT</text>
<rect x="385.60" y="92.30" width="157.30" height="93.50" fill="#000" opacity="0.07" rx="1.2"/>
<rect x="386.20" y="92.60" width="156.10" height="92.10" fill="#f2f2f2" rx="0.8"/>
<rect x="390.20" y="93.60" width="149.30" height="90.30" fill="#fcfcfc" />
<g>
<text x="401.80" y="98.70" font-size="4.6" fill="#222" text-anchor="middle" font-weight="normal" >00:00</text>
<text x="430.70" y="98.70" font-size="4.6" fill="#222" text-anchor="middle" font-weight="normal" >05:00</text>
<text x="459.60" y="98.70" font-size="4.6" fill="#222" text-anchor="middle" font-weight="normal" >10:00</text>
<text x="488.50" y="98.70" font-size="4.6" fill="#222" text-anchor="middle" font-weight="normal" >15:00</text>
<line x1="488.50" y1="100.00" x2="488.50" y2="176.50" stroke="#dcdcdc" stroke-width="0.5" />
<text x="517.40" y="98.70" font-size="4.6" fill="#222" text-anchor="middle" font-weight="normal" >20:00</text>
<line x1="517.40" y1="100.00" x2="517.40" y2="176.50" stroke="#dcdcdc" stroke-width="0.5" />
<line x1="402.00" y1="100.00" x2="534.00" y2="100.00" stroke="#bbb" stroke-width="0.6" />
<text x="400.00" y="176.60" font-size="4.6" fill="#222" text-anchor="end" font-weight="normal" >0</text>
<line x1="402.00" y1="163.83" x2="534.00" y2="163.83" stroke="#cdcdcd" stroke-width="0.5" stroke-dasharray="1 0.8"/>
<text x="400.00" y="165.83" font-size="4.6" fill="#222" text-anchor="end" font-weight="normal" >20</text>
<line x1="402.00" y1="153.06" x2="534.00" y2="153.06" stroke="#cdcdcd" stroke-width="0.5" stroke-dasharray="1 0.8"/>
<text x="400.00" y="155.06" font-size="4.6" fill="#222" text-anchor="end" font-weight="normal" >40</text>
<line x1="402.00" y1="142.29" x2="534.00" y2="142.29" stroke="#cdcdcd" stroke-width="0.5" stroke-dasharray="1 0.8"/>
<text x="400.00" y="144.29" font-size="4.6" fill="#222" text-anchor="end" font-weight="normal" >60</text>
<line x1="402.00" y1="131.52" x2="534.00" y2="131.52" stroke="#cdcdcd" stroke-width="0.5" stroke-dasharray="1 0.8"/>
<text x="400.00" y="133.52" font-size="4.6" fill="#222" text-anchor="end" font-weight="normal" >80</text>
<line x1="402.00" y1="120.75" x2="534.00" y2="120.75" stroke="#cdcdcd" stroke-width="0.5" stroke-dasharray="1 0.8"/>
<text x="400.00" y="122.75" font-size="4.6" fill="#222" text-anchor="end" font-weight="normal" >100</text>
<text x="400.00" y="111.98" font-size="4.6" fill="#222" text-anchor="end" font-weight="normal" >120</text>
<polyline fill="none" stroke="#555" stroke-width="0.42" points="401.80,152.52 407.58,163.29 413.36,168.68 419.14,171.91 424.92,172.98 430.70,118.60 436.48,112.13 442.26,143.37 448.04,158.98 453.82,166.52 459.60,172.45 465.38,174.60 471.16,174.60 476.94,174.60 482.72,174.60 488.50,174.60 494.28,132.60 500.06,146.06 505.84,160.06 511.62,167.06 517.40,170.83 523.18,172.45 528.96,173.52 534.74,106.75"/>
<circle cx="401.80" cy="152.52" r="1.4" fill="#000"/>
<text x="402.40" y="150.32" font-size="4.5" fill="#222" text-anchor="middle" font-weight="normal" >41</text>
<circle cx="407.58" cy="163.29" r="1.4" fill="#000"/>
<text x="408.18" y="161.09" font-size="4.5" fill="#222" text-anchor="middle" font-weight="normal" >21</text>
<circle cx="413.36" cy="168.68" r="1.4" fill="#000"/>
<text x="413.96" y="166.48" font-size="4.5" fill="#222" text-anchor="middle" font-weight="normal" >11</text>
<circle cx="419.14" cy="171.91" r="1.4" fill="#000"/>
<text x="419.74" y="169.71" font-size="4.5" fill="#222" text-anchor="middle" font-weight="normal" >5</text>
<circle cx="424.92" cy="172.98" r="1.4" fill="#000"/>
<text x="425.52" y="170.78" font-size="4.5" fill="#222" text-anchor="middle" font-weight="normal" >3</text>
<circle cx="430.70" cy="118.60" r="1.4" fill="#000"/>
<text x="431.30" y="116.40" font-size="4.5" fill="#222" text-anchor="middle" font-weight="normal" >104</text>
<circle cx="436.48" cy="112.13" r="1.4" fill="#000"/>
<text x="437.08" y="109.93" font-size="4.5" fill="#222" text-anchor="middle" font-weight="normal" >116</text>
<circle cx="442.26" cy="143.37" r="1.4" fill="#000"/>
<text x="442.86" y="141.17" font-size="4.5" fill="#222" text-anchor="middle" font-weight="normal" >58</text>
<circle cx="448.04" cy="158.98" r="1.4" fill="#000"/>
<text x="448.64" y="156.78" font-size="4.5" fill="#222" text-anchor="middle" font-weight="normal" >29</text>
<circle cx="453.82" cy="166.52" r="1.4" fill="#000"/>
<text x="454.42" y="164.32" font-size="4.5" fill="#222" text-anchor="middle" font-weight="normal" >15</text>
<circle cx="459.60" cy="172.45" r="1.4" fill="#000"/>
<text x="460.20" y="170.25" font-size="4.5" fill="#222" text-anchor="middle" font-weight="normal" >4</text>
<circle cx="465.38" cy="174.60" r="1.4" fill="#000"/>
<text x="465.98" y="172.40" font-size="4.5" fill="#222" text-anchor="middle" font-weight="normal" >0</text>
<circle cx="471.16" cy="174.60" r="1.4" fill="#000"/>
<text x="471.76" y="172.40" font-size="4.5" fill="#222" text-anchor="middle" font-weight="normal" >0</text>
<circle cx="476.94" cy="174.60" r="1.4" fill="#000"/>
<text x="477.54" y="172.40" font-size="4.5" fill="#222" text-anchor="middle" font-weight="normal" >0</text>
<circle cx="482.72" cy="174.60" r="1.4" fill="#000"/>
<text x="483.32" y="172.40" font-size="4.5" fill="#222" text-anchor="middle" font-weight="normal" >0</text>
<circle cx="488.50" cy="174.60" r="1.4" fill="#000"/>
<text x="489.10" y="172.40" font-size="4.5" fill="#222" text-anchor="middle" font-weight="normal" >0</text>
<circle cx="494.28" cy="132.60" r="1.4" fill="#000"/>
<text x="494.88" y="130.40" font-size="4.5" fill="#222" text-anchor="middle" font-weight="normal" >78</text>
<circle cx="500.06" cy="146.06" r="1.4" fill="#000"/>
<text x="500.66" y="143.86" font-size="4.5" fill="#222" text-anchor="middle" font-weight="normal" >53</text>
<circle cx="505.84" cy="160.06" r="1.4" fill="#000"/>
<text x="506.44" y="157.86" font-size="4.5" fill="#222" text-anchor="middle" font-weight="normal" >27</text>
<circle cx="511.62" cy="167.06" r="1.4" fill="#000"/>
<text x="512.22" y="164.86" font-size="4.5" fill="#222" text-anchor="middle" font-weight="normal" >14</text>
<circle cx="517.40" cy="170.83" r="1.4" fill="#000"/>
<text x="518.00" y="168.63" font-size="4.5" fill="#222" text-anchor="middle" font-weight="normal" >7</text>
<circle cx="523.18" cy="172.45" r="1.4" fill="#000"/>
<text x="523.78" y="170.25" font-size="4.5" fill="#222" text-anchor="middle" font-weight="normal" >4</text>
<circle cx="528.96" cy="173.52" r="1.4" fill="#000"/>
<text x="529.56" y="171.32" font-size="4.5" fill="#222" text-anchor="middle" font-weight="normal" >2</text>
<circle cx="534.74" cy="106.75" r="1.4" fill="#000"/>
<text x="535.34" y="104.55" font-size="4.5" fill="#222" text-anchor="middle" font-weight="normal" >126</text>
<line x1="404.30" y1="179.50" x2="408.00" y2="179.50" stroke="#333" stroke-width="0.6" />
<text x="410.60" y="181.10" font-size="4.6" fill="#111" text-anchor="start" font-weight="normal" textLength="15.00" lengthAdjust="spacingAndGlyphs" >Rainfall</text>
</g>
<rect x="385.60" y="192.20" width="157.30" height="108.90" fill="#000" opacity="0.07" rx="1.2"/>
<rect x="386.20" y="192.50" width="156.10" height="107.50" fill="#f2f2f2" rx="0.8"/>
<rect x="390.20" y="193.40" width="149.30" height="106.00" fill="#fcfcfc" />
<g clip-path="url(#c3t)">
<text x="393.50" y="202.60" font-size="6.9" fill="#9a9a9a" text-anchor="start" font-weight="normal" textLength="28.20" lengthAdjust="spacingAndGlyphs" >RAINFALL</text>
<line x1="393.50" y1="207.90" x2="535.20" y2="207.90" stroke="#4a4a4a" stroke-width="0.9" />
<text x="393.50" y="215.00" font-size="6.1" fill="#222" text-anchor="start" font-weight="bold" textLength="15.30" lengthAdjust="spacingAndGlyphs" >DATE</text>
<text x="429.20" y="215.00" font-size="6.1" fill="#222" text-anchor="start" font-weight="bold" textLength="16.80" lengthAdjust="spacingAndGlyphs" >HOUR</text>
<text x="535.20" y="215.00" font-size="6.1" fill="#222" text-anchor="end" font-weight="bold" textLength="54.00" lengthAdjust="spacingAndGlyphs" >MEASURED VALUE</text>
<line x1="393.50" y1="216.80" x2="535.20" y2="216.80" stroke="#cfcfcf" stroke-width="0.6" />
<text x="393.50" y="224.70" font-size="6.8" fill="#444" text-anchor="start" font-weight="normal" textLength="31.70" lengthAdjust="spacingAndGlyphs" >2015-06-30</text>
<text x="429.20" y="224.70" font-size="6.8" fill="#444" text-anchor="start" font-weight="normal" textLength="15.10" lengthAdjust="spacingAndGlyphs" >00:00</text>
<text x="535.20" y="224.70" font-size="6.6" fill="#444" text-anchor="end" font-weight="normal" >32.5</text>
<text x="393.50" y="233.37" font-size="6.8" fill="#444" text-anchor="start" font-weight="normal" textLength="31.70" lengthAdjust="spacingAndGlyphs" >2015-06-30</text>
<text x="429.20" y="233.37" font-size="6.8" fill="#444" text-anchor="start" font-weight="normal" textLength="15.10" lengthAdjust="spacingAndGlyphs" >01:00</text>
<text x="535.20" y="233.37" font-size="6.6" fill="#444" text-anchor="end" font-weight="normal" >16.5</text>
<text x="393.50" y="242.04" font-size="6.8" fill="#444" text-anchor="start" font-weight="normal" textLength="31.70" lengthAdjust="spacingAndGlyphs" >2015-06-30</text>
<text x="429.20" y="242.04" font-size="6.8" fill="#444" text-anchor="start" font-weight="normal" textLength="15.10" lengthAdjust="spacingAndGlyphs" >02:00</text>
<text x="535.20" y="242.04" font-size="6.6" fill="#444" text-anchor="end" font-weight="normal" >8.5</text>
<text x="393.50" y="250.71" font-size="6.8" fill="#444" text-anchor="start" font-weight="normal" textLength="31.70" lengthAdjust="spacingAndGlyphs" >2015-06-30</text>
<text x="429.20" y="250.71" font-size="6.8" fill="#444" text-anchor="start" font-weight="normal" textLength="15.10" lengthAdjust="spacingAndGlyphs" >03:00</text>
<text x="535.20" y="250.71" font-size="6.6" fill="#444" text-anchor="end" font-weight="normal" >4.5</text>
<text x="393.50" y="259.38" font-size="6.8" fill="#444" text-anchor="start" font-weight="normal" textLength="31.70" lengthAdjust="spacingAndGlyphs" >2015-06-30</text>
<text x="429.20" y="259.38" font-size="6.8" fill="#444" text-anchor="start" font-weight="normal" textLength="15.10" lengthAdjust="spacingAndGlyphs" >04:00</text>
<text x="535.20" y="259.38" font-size="6.6" fill="#444" text-anchor="end" font-weight="normal" >2.5</text>
<text x="393.50" y="268.05" font-size="6.8" fill="#444" text-anchor="start" font-weight="normal" textLength="31.70" lengthAdjust="spacingAndGlyphs" >2015-06-30</text>
<text x="429.20" y="268.05" font-size="6.8" fill="#444" text-anchor="start" font-weight="normal" textLength="15.10" lengthAdjust="spacingAndGlyphs" >05:00</text>
<text x="535.20" y="268.05" font-size="6.6" fill="#444" text-anchor="end" font-weight="normal" >53.0</text>
<text x="393.50" y="276.72" font-size="6.8" fill="#444" text-anchor="start" font-weight="normal" textLength="31.70" lengthAdjust="spacingAndGlyphs" >2015-06-30</text>
<text x="429.20" y="276.72" font-size="6.8" fill="#444" text-anchor="start" font-weight="normal" textLength="15.10" lengthAdjust="spacingAndGlyphs" >06:00</text>
<text x="535.20" y="276.72" font-size="6.6" fill="#444" text-anchor="end" font-weight="normal" >84.0</text>
<text x="393.50" y="285.39" font-size="6.8" fill="#444" text-anchor="start" font-weight="normal" textLength="31.70" lengthAdjust="spacingAndGlyphs" >2015-06-30</text>
<text x="429.20" y="285.39" font-size="6.8" fill="#444" text-anchor="start" font-weight="normal" textLength="15.10" lengthAdjust="spacingAndGlyphs" >07:00</text>
<text x="535.20" y="285.39" font-size="6.6" fill="#444" text-anchor="end" font-weight="normal" >42.0</text>
<text x="393.50" y="294.06" font-size="6.8" fill="#444" text-anchor="start" font-weight="normal" textLength="31.70" lengthAdjust="spacingAndGlyphs" >2015-06-30</text>
<text x="429.20" y="294.06" font-size="6.8" fill="#444" text-anchor="start" font-weight="normal" textLength="15.10" lengthAdjust="spacingAndGlyphs" >08:00</text>
<text x="535.20" y="294.06" font-size="6.6" fill="#444" text-anchor="end" font-weight="normal" >21.0</text>
</g>
<rect x="382.00" y="2.60" width="164.00" height="11.90" fill="#0877d9" />
<rect x="382.00" y="14.50" width="164.00" height="25.70" fill="#0e97f5" />
<rect x="382.00" y="40.10" width="164.00" height="21.80" fill="#0877d9" />
<rect x="382.00" y="61.90" width="164.00" height="2.60" fill="url(#sh)" />
<rect x="423.00" y="60.40" width="41.00" height="1.60" fill="#ff4081" />
<text x="390.00" y="30.50" font-size="8.8" fill="#fff" text-anchor="start" font-weight="bold" textLength="65.60" lengthAdjust="spacingAndGlyphs" >Rainfall Analysis</text>
<text x="397.10" y="53.80" font-size="6.3" fill="#fff" text-anchor="start" font-weight="bold" textLength="10.80" lengthAdjust="spacingAndGlyphs" >LBS</text>
<text x="437.80" y="53.80" font-size="6.3" fill="#fff" text-anchor="start" font-weight="bold" textLength="11.40" lengthAdjust="spacingAndGlyphs" >TSA</text>
<text x="474.70" y="53.80" font-size="6.3" fill="#fff" text-anchor="start" font-weight="bold" textLength="19.60" lengthAdjust="spacingAndGlyphs" >QUERY</text>
<text x="518.70" y="53.80" font-size="6.3" fill="#fff" text-anchor="start" font-weight="bold" textLength="13.60" lengthAdjust="spacingAndGlyphs" >MAP</text>
<circle cx="513.40" cy="27.3" r="4.1" fill="none" stroke="#fff" stroke-width="0.9"/>
<rect x="512.95" y="26.60" width="0.90" height="3.00" fill="#fff" />
<rect x="512.95" y="24.70" width="0.90" height="1.00" fill="#fff" />
<text x="534.80" y="31.90" font-size="12.2" fill="#fff" text-anchor="middle" font-weight="normal" stroke="#fff" stroke-width="0.3">?</text>
<circle cx="463.40" cy="8.80" r="2.8" fill="none" stroke="#fff" stroke-width="0.9" opacity="0.85"/>
<line x1="460.50" y1="6.80" x2="461.90" y2="5.50" stroke="#fff" stroke-width="0.9" opacity="0.85"/>
<line x1="466.30" y1="6.80" x2="464.90" y2="5.50" stroke="#fff" stroke-width="0.9" opacity="0.85"/>
<line x1="463.40" y1="7.40" x2="463.40" y2="9.00" stroke="#fff" stroke-width="0.6" opacity="0.85"/>
<text x="472.00" y="8.30" font-size="4.9" fill="#fff" text-anchor="start" font-weight="bold" textLength="5.40" lengthAdjust="spacingAndGlyphs" opacity="0.9">H+</text>
<path d="M472.60 9.40 h1.8 l-0.9 1.8 Z M475.00 11.20 h1.8 l-0.9 -1.8 Z" fill="#fff" opacity="0.7"/>
<rect x="481.60" y="9.90" width="1.25" height="1.60" fill="#fff" opacity="0.9"/>
<rect x="483.10" y="8.50" width="1.25" height="3.00" fill="#fff" opacity="0.9"/>
<rect x="484.60" y="7.00" width="1.25" height="4.50" fill="#fff" opacity="0.9"/>
<rect x="486.10" y="5.20" width="1.25" height="6.30" fill="#fff" opacity="0.9"/>
<text x="490.40" y="10.60" font-size="4.6" fill="#fff" text-anchor="start" font-weight="normal" textLength="9.00" lengthAdjust="spacingAndGlyphs" opacity="0.6">86%</text>
<rect x="502.10" y="5.70" width="4.30" height="6.00" fill="#fff" opacity="0.92"/>
<rect x="503.30" y="5.00" width="1.90" height="0.90" fill="#fff" opacity="0.92"/>
<text x="510.30" y="11.60" font-size="8.0" fill="#fff" text-anchor="start" font-weight="normal" textLength="32.70" lengthAdjust="spacingAndGlyphs" opacity="0.78">10:18 AM</text>
<circle cx="389.50" cy="8.20" r="2.9" fill="none" stroke="#fff" stroke-width="0.8" opacity="0.85"/>
<path d="M386.60 11.40 l0.6 -1.9 l1.3 1.3 Z" fill="#fff" opacity="0.85"/>
<path d="M388.30 7.00 q0.2 2.2 2.6 2.6" fill="none" stroke="#fff" stroke-width="0.9" opacity="0.85"/>
<rect x="397.40" y="5.20" width="6.2" height="4.6" rx="0.5" fill="#fff" opacity="0.85"/>
<path d="M398.00 6.00 l2.5 2 l2.5 -2" fill="none" stroke="#0877d9" stroke-width="0.7"/>
<circle cx="402.80" cy="9.60" r="1.2" fill="#fff" opacity="0.85"/>
<rect x="408.40" y="5.20" width="6.2" height="4.6" rx="0.5" fill="#fff" opacity="0.85"/>
<path d="M409.00 6.00 l2.5 2 l2.5 -2" fill="none" stroke="#0877d9" stroke-width="0.7"/>
<circle cx="413.80" cy="9.60" r="1.2" fill="#fff" opacity="0.85"/>
<rect x="419.60" y="5.20" width="5.6" height="6.4" rx="0.8" fill="none" stroke="#fff" stroke-width="0.9" opacity="0.85"/>
<path d="M420.80 10.20 l1.4 -1.6 l0.9 0.9 l1.2 -1.5 l0 2.2 Z" fill="#fff" opacity="0.85"/>
<rect x="430.40" y="5.00" width="3.6" height="6.2" rx="0.6" fill="none" stroke="#fff" stroke-width="0.9" opacity="0.85"/>
<circle cx="434.40" cy="10.20" r="1.3" fill="#fff" opacity="0.85"/>
</g>
</svg>
</body></html>
